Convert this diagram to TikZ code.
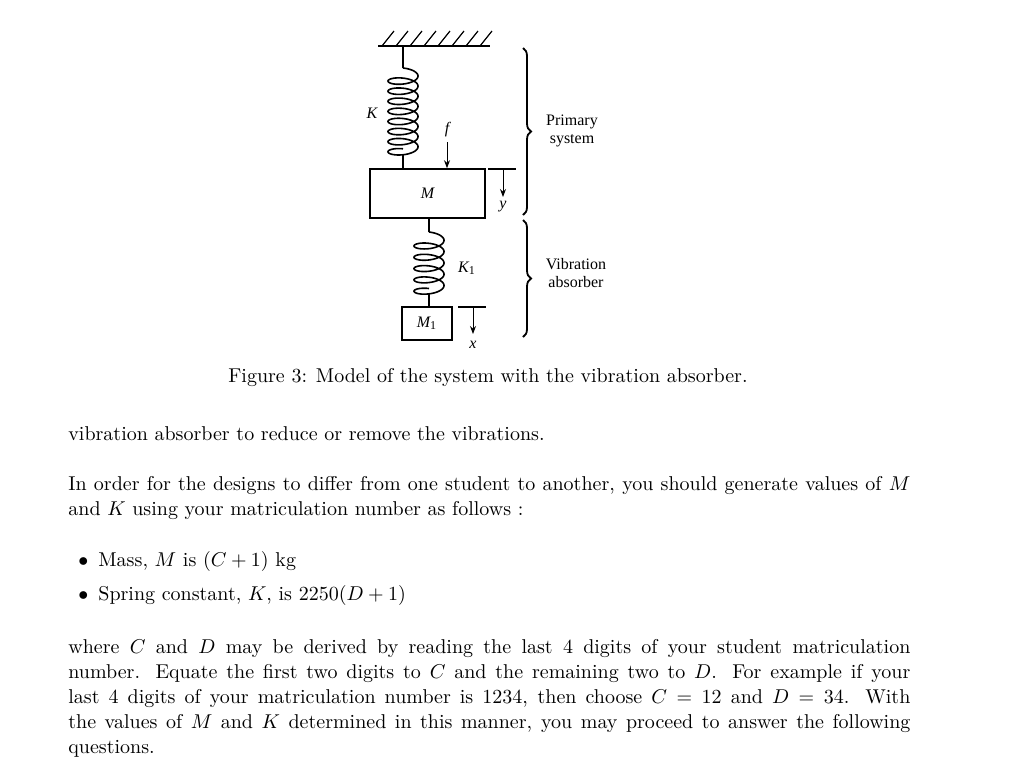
\documentclass[tikz,border=0pt]{standalone}
\usepackage{fontspec}
\newfontfamily\tnr{Liberation Serif}
\usetikzlibrary{decorations.pathreplacing,arrows.meta}
\begin{document}
\begin{tikzpicture}[x=0.5pt,y=-0.5pt,
  lbl/.style={font=\tnr\fontsize{8}{9}\selectfont, inner sep=0},
  ilbl/.style={font=\tnr\itshape\fontsize{8}{9}\selectfont, inner sep=0},
  mass/.style={draw, line width=0.8pt, inner sep=0},
  spr/.style={line width=0.8pt},
  arr/.style={-{Stealth[length=4pt]}, line width=0.5pt},
  brc/.style={decorate, decoration={brace, amplitude=4pt}, line width=0.9pt},
  ln/.style={anchor=base west, inner sep=0, font=\fontsize{10}{12}\selectfont}]
\useasboundingbox (0,0) rectangle (1024,767);
% ground
\coordinate (g1) at (378,46); \coordinate (g2) at (490,46);
\draw[line width=0.9pt] (g1) -- (g2);
\foreach \i in {0,...,7} \draw[line width=0.6pt] (382+\i*14,46) -- (394+\i*14,31);
% masses
\node[mass, minimum width=57.5pt, minimum height=24.5pt] (M) at (427.5,193.5) {};
\node[ilbl] at (M) {M};
\node[mass, minimum width=25pt, minimum height=16.5pt] (M1) at (427,323.5) {};
\node[ilbl] at (M1) {M\textsubscript{\upshape 1}};
% spring K
\coordinate (s1) at (403,46); \coordinate (s1a) at (403,68); \coordinate (s1b) at (403,154);
\draw[spr] (s1) -- (s1a);
\draw[spr] plot[domain=0:2880, samples=600, variable=\t] ({403+15*sin(\t)}, {73.5+\t/360*10.1-5.5*cos(\t)});
\draw[spr] (s1b) -- (M.north -| s1b);
% spring K1
\coordinate (s2) at (429,218); \coordinate (s2a) at (429,232); \coordinate (s2b) at (429,294);
\draw[spr] (s2) -- (s2a);
\draw[spr] plot[domain=0:1800, samples=400, variable=\t] ({429+15*sin(\t)}, {237.5+\t/360*11.3-5.5*cos(\t)});
\draw[spr] (s2b) -- (M1.north -| s2b);
\node[ilbl] at (372,113) {K};
\node[ilbl] at (467,268) {K\textsubscript{\upshape 1}};
% force
\coordinate (f0) at (447,142);
\draw[arr] (f0) -- (M.north -| f0);
\node[ilbl] at (447,130) {f};
% displacement y
\coordinate (ya) at (488,169); \coordinate (yb) at (516,169); \coordinate (yc) at (503,169); \coordinate (yd) at (503,197);
\draw[line width=0.6pt] (ya) -- (yb);
\draw[arr] (yc) -- (yd);
\node[ilbl] at (503,207) {y};
% displacement x
\coordinate (xa) at (458,307); \coordinate (xb) at (486,307); \coordinate (xc) at (473,307); \coordinate (xd) at (473,334);
\draw[line width=0.6pt] (xa) -- (xb);
\draw[arr] (xc) -- (xd);
\node[ilbl] at (473,345) {x};
% braces
\coordinate (b1) at (523,48); \coordinate (b2) at (523,215);
\draw[brc] (b1) -- (b2);
\coordinate (b3) at (523,220); \coordinate (b4) at (523,337);
\draw[brc] (b3) -- (b4);
\node[lbl, align=center] at (572,131) {Primary\\system};
\node[lbl, align=center] at (576,273) {Vibration\\absorber};
% caption
\node[anchor=base, inner sep=0, font=\fontsize{10}{12}\selectfont] (cap) at (488,382) {Figure 3: Model of the system with the vibration absorber.};
% body
\node[ln] (l0) at (68,440) {vibration absorber to reduce or remove the vibrations.};
\node[ln] (l1) at (68,490) {\makebox[421pt][s]{In order for the designs to differ from one student to another, you should generate values of $M$}};
\node[ln] (l2) at (68,515) {and $K$ using your matriculation number as follows :};
\node[ln] (b1t) at (78,566) {$\bullet$\hspace{5pt}Mass, $M$ is $(C+1)$ kg};
\node[ln] (b2t) at (78,600) {$\bullet$\hspace{5pt}Spring constant, $K$, is $2250(D+1)$};
\node[ln] (p1) at (68,653) {\makebox[421pt][s]{where $C$ and $D$ may be derived by reading the last 4 digits of your student matriculation}};
\node[ln] (p2) at (68,678) {\makebox[421pt][s]{number. Equate the first two digits to $C$ and the remaining two to $D$. For example if your}};
\node[ln] (p3) at (68,703) {\makebox[421pt][s]{last 4 digits of your matriculation number is 1234, then choose $C=12$ and $D=34$. With}};
\node[ln] (p4) at (68,728) {\makebox[421pt][s]{the values of $M$ and $K$ determined in this manner, you may proceed to answer the following}};
\node[ln] (p5) at (68,753) {questions.};
\end{tikzpicture}
\end{document}
